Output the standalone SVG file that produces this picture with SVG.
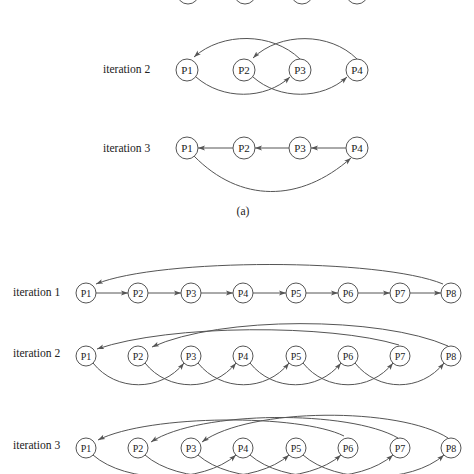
<svg xmlns="http://www.w3.org/2000/svg" width="474" height="474" viewBox="0 0 474 474">
<defs>
<marker id="ah" markerWidth="8" markerHeight="6" refX="7" refY="3" orient="auto" markerUnits="userSpaceOnUse">
<path d="M0,0.6 L7,3 L0,5.4 L1.6,3 z" fill="#555"/>
</marker>
</defs>
<style>
.n{fill:#fff;stroke:#555;stroke-width:1}
.t{font-family:"Liberation Serif","Times New Roman",serif;fill:#222;text-anchor:middle}
.ta{font-size:11px}
.tb{font-size:10px}
.lab{font-family:"Liberation Serif","Times New Roman",serif;fill:#222;font-size:11.6px}
.e{fill:none;stroke:#555;stroke-width:1;marker-end:url(#ah)}
</style>
<rect width="474" height="474" fill="#fff"/>

<g id="labels">
<text class="lab" x="103" y="73">iteration 2</text>
<text class="lab" x="103" y="152">iteration 3</text>
<text class="lab" x="243" y="215" style="text-anchor:middle">(a)</text>
<text class="lab" x="13" y="296">iteration 1</text>
<text class="lab" x="13" y="357">iteration 2</text>
<text class="lab" x="13" y="449">iteration 3</text>
</g>

<g id="connectors">
<!-- (a) iteration 2 -->
<path class="e" d="M300,59 C272,32 222,32 194,57"/>
<path class="e" d="M357,59 C330,32 280,32 253,58"/>
<path class="e" d="M196,77 C222,100 265,100 290,77"/>
<path class="e" d="M253,77 C279,100 322,100 347,77"/>
<!-- (a) iteration 3 -->
<path class="e" d="M346,148 L311,148"/>
<path class="e" d="M289,148 L255,148"/>
<path class="e" d="M233,148 L198,148"/>
<path class="e" d="M194,156 C240,203 300,203 351,158"/>

<!-- (b) iteration 1 -->
<path class="e" d="M96,293 L128,293"/>
<path class="e" d="M148,293 L181,293"/>
<path class="e" d="M201,293 L233,293"/>
<path class="e" d="M253,293 L286,293"/>
<path class="e" d="M306,293 L338,293"/>
<path class="e" d="M358,293 L390,293"/>
<path class="e" d="M410,293 L441,293"/>
<path class="e" d="M443,284 C380,258 160,258 96,284"/>

<!-- (b) iteration 2 -->
<path class="e" d="M399,345 C330,324 170,324 97,349"/>
<path class="e" d="M448,346 C380,316 220,316 152,347"/>
<path class="e" d="M93,363 C116,392 161,392 184,363"/>
<path class="e" d="M145,363 C168,392 213,392 236,363"/>
<path class="e" d="M198,363 C221,392 266,392 289,363"/>
<path class="e" d="M250,363 C273,392 318,392 341,363"/>
<path class="e" d="M303,363 C326,392 370,392 393,363"/>
<path class="e" d="M355,363 C378,392 421,392 444,363"/>

<!-- (b) iteration 3 -->
<path class="e" d="M344,436 C300,414 150,414 98,440"/>
<path class="e" d="M398,438 C350,410 200,410 151,442"/>
<path class="e" d="M448,438 C400,407 250,407 202,442"/>
<path class="e" d="M93,455 C126,484 203,484 236,455"/>
<path class="e" d="M145,455 C178,484 256,484 289,455"/>
<path class="e" d="M198,455 C231,484 308,484 341,455"/>
<path class="e" d="M250,455 C283,484 360,484 393,455"/>
<path class="e" d="M303,455 C336,484 411,484 444,455"/>
</g>

<!-- (a) iteration 1 (cut off at top edge; only the circle bottoms show) -->
<g id="a1-P1"><circle class="n" cx="188" cy="-7" r="11"/></g>
<g id="a1-P2"><circle class="n" cx="245" cy="-7" r="11"/></g>
<g id="a1-P3"><circle class="n" cx="302" cy="-7" r="11"/></g>
<g id="a1-P4"><circle class="n" cx="357" cy="-7" r="11"/></g>

<!-- (a) iteration 2 -->
<g id="a2-P1"><circle class="n" cx="187" cy="70" r="11"/><text class="t ta" x="187" y="74">P1</text></g>
<g id="a2-P2"><circle class="n" cx="244" cy="70" r="11"/><text class="t ta" x="244" y="74">P2</text></g>
<g id="a2-P3"><circle class="n" cx="300" cy="70" r="11"/><text class="t ta" x="300" y="74">P3</text></g>
<g id="a2-P4"><circle class="n" cx="357" cy="70" r="11"/><text class="t ta" x="357" y="74">P4</text></g>

<!-- (a) iteration 3 -->
<g id="a3-P1"><circle class="n" cx="187" cy="148" r="11"/><text class="t ta" x="187" y="152">P1</text></g>
<g id="a3-P2"><circle class="n" cx="244" cy="148" r="11"/><text class="t ta" x="244" y="152">P2</text></g>
<g id="a3-P3"><circle class="n" cx="300" cy="148" r="11"/><text class="t ta" x="300" y="152">P3</text></g>
<g id="a3-P4"><circle class="n" cx="357" cy="148" r="11"/><text class="t ta" x="357" y="152">P4</text></g>

<!-- (b) iteration 1 -->
<g id="b1-P1"><circle class="n" cx="86" cy="293" r="10"/><text class="t tb" x="86" y="296.5">P1</text></g>
<g id="b1-P2"><circle class="n" cx="138" cy="293" r="10"/><text class="t tb" x="138" y="296.5">P2</text></g>
<g id="b1-P3"><circle class="n" cx="191" cy="293" r="10"/><text class="t tb" x="191" y="296.5">P3</text></g>
<g id="b1-P4"><circle class="n" cx="243" cy="293" r="10"/><text class="t tb" x="243" y="296.5">P4</text></g>
<g id="b1-P5"><circle class="n" cx="296" cy="293" r="10"/><text class="t tb" x="296" y="296.5">P5</text></g>
<g id="b1-P6"><circle class="n" cx="348" cy="293" r="10"/><text class="t tb" x="348" y="296.5">P6</text></g>
<g id="b1-P7"><circle class="n" cx="400" cy="293" r="10"/><text class="t tb" x="400" y="296.5">P7</text></g>
<g id="b1-P8"><circle class="n" cx="451" cy="293" r="10"/><text class="t tb" x="451" y="296.5">P8</text></g>

<!-- (b) iteration 2 -->
<g id="b2-P1"><circle class="n" cx="86" cy="356" r="10"/><text class="t tb" x="86" y="359.5">P1</text></g>
<g id="b2-P2"><circle class="n" cx="138" cy="356" r="10"/><text class="t tb" x="138" y="359.5">P2</text></g>
<g id="b2-P3"><circle class="n" cx="191" cy="356" r="10"/><text class="t tb" x="191" y="359.5">P3</text></g>
<g id="b2-P4"><circle class="n" cx="243" cy="356" r="10"/><text class="t tb" x="243" y="359.5">P4</text></g>
<g id="b2-P5"><circle class="n" cx="296" cy="356" r="10"/><text class="t tb" x="296" y="359.5">P5</text></g>
<g id="b2-P6"><circle class="n" cx="348" cy="356" r="10"/><text class="t tb" x="348" y="359.5">P6</text></g>
<g id="b2-P7"><circle class="n" cx="400" cy="356" r="10"/><text class="t tb" x="400" y="359.5">P7</text></g>
<g id="b2-P8"><circle class="n" cx="451" cy="356" r="10"/><text class="t tb" x="451" y="359.5">P8</text></g>

<!-- (b) iteration 3 -->
<g id="b3-P1"><circle class="n" cx="86" cy="448" r="10"/><text class="t tb" x="86" y="451.5">P1</text></g>
<g id="b3-P2"><circle class="n" cx="138" cy="448" r="10"/><text class="t tb" x="138" y="451.5">P2</text></g>
<g id="b3-P3"><circle class="n" cx="191" cy="448" r="10"/><text class="t tb" x="191" y="451.5">P3</text></g>
<g id="b3-P4"><circle class="n" cx="243" cy="448" r="10"/><text class="t tb" x="243" y="451.5">P4</text></g>
<g id="b3-P5"><circle class="n" cx="296" cy="448" r="10"/><text class="t tb" x="296" y="451.5">P5</text></g>
<g id="b3-P6"><circle class="n" cx="348" cy="448" r="10"/><text class="t tb" x="348" y="451.5">P6</text></g>
<g id="b3-P7"><circle class="n" cx="400" cy="448" r="10"/><text class="t tb" x="400" y="451.5">P7</text></g>
<g id="b3-P8"><circle class="n" cx="451" cy="448" r="10"/><text class="t tb" x="451" y="451.5">P8</text></g>
</svg>
